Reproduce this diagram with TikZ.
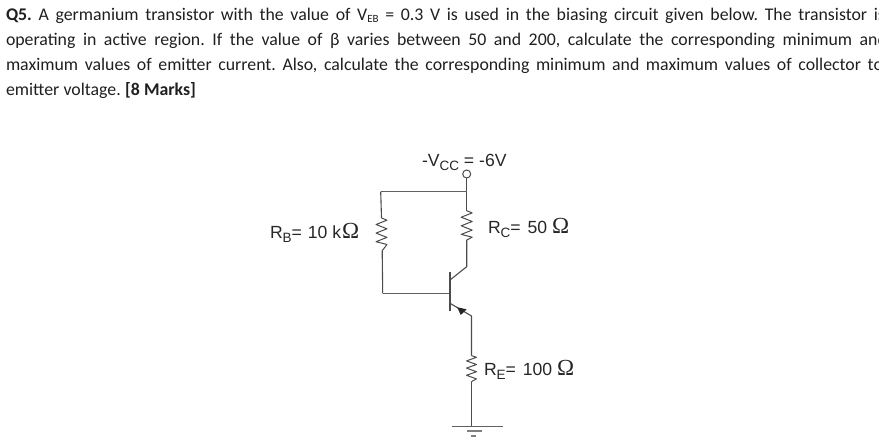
\documentclass[tikz,border=0pt]{standalone}
\usepackage{fontspec}
\setmainfont{Carlito}
\newfontfamily\labelfont{Liberation Sans}
\newfontfamily\omegafont{Liberation Serif}
\usetikzlibrary{arrows.meta}
\frenchspacing
\newcommand{\qline}[2]{\hbox to #1pt{\spaceskip=0.2em plus 1fil\relax #2}}
\newcommand{\lsub}[1]{\raisebox{-3.8pt}{\fontsize{13.5}{13.5}\selectfont #1}}
\newcommand{\ohm}{{\omegafont\fontsize{23}{23}\selectfont Ω}}
\tikzset{
  x=1pt,y=1pt,
  qtext/.style={anchor=base west,inner sep=0pt,outer sep=0pt,text=black!88,font=\fontsize{17.8}{20}\selectfont},
  clabel/.style={anchor=base west,inner sep=0pt,outer sep=0pt,text=black!85,font=\labelfont\fontsize{17.6}{18}\selectfont},
  wire/.style={draw=black!70,line width=1.1pt,line join=round},
  thick wire/.style={draw=black!62,line width=1.4pt},
}
\newcommand{\zig}[2]{% resistor between named coordinates, vertical
  \draw[wire,line width=1pt] (#1) -- ++(5.5,-2.2) -- ++(-11,-4.3) -- ++(11,-4.3) -- ++(-11,-4.3) -- ++(11,-4.3) -- ++(-11,-4.3) -- ++(11,-2.8) -- (#2);}
\begin{document}
\begin{tikzpicture}
\useasboundingbox (0,0) rectangle (879,442);
\begin{scope}
\clip (0,0) rectangle (879,442);
\node[qtext] (l1) at (6,421) {\qline{879}{\textbf{Q5.} A germanium transistor with the value of V\raisebox{-1.5pt}{\fontsize{11}{11}\selectfont EB} = 0.3 V is used in the biasing circuit given below. The transistor is}};
\node[qtext] (l2) at (6,396) {\qline{881}{operating in active region. If the value of β varies between 50 and 200, calculate the corresponding minimum and}};
\node[qtext] (l3) at (6,371) {\qline{877}{maximum values of emitter current. Also, calculate the corresponding minimum and maximum values of collector to}};
\node[qtext] (l4) at (6,346) {\qline{190}{emitter voltage. \textbf{[8 Marks]}}};
\end{scope}

\node[clabel] (vcc) at (422,275) {-V\lsub{CC} = -6V};
\node[clabel] (rc) at (488,208) {R\lsub{C}=\kern2pt\ 50 \ohm};
\node[clabel] (rb) at (270,203) {R\lsub{B}=\kern1pt\ 10 k\kern1pt\ohm};
\node[clabel] (re) at (484,66) {R\lsub{E}=\kern2pt\ 100 \ohm};

\node[circle,draw=black!70,line width=1pt,fill=white,minimum size=8pt,inner sep=0pt] (term) at (466.7,268) {};
\coordinate (jt) at (466.7,250.3);
\coordinate (tl) at (380.7,250.3);
\coordinate (rbt) at (381.5,224);
\coordinate (rbb) at (382.2,191.3);
\coordinate (bl) at (382.7,148.7);
\coordinate (bb) at (450,148.7);
\coordinate (bart) at (450,170.3);
\coordinate (barb) at (450,131.3);
\coordinate (rct) at (466.7,231.3);
\coordinate (rcb) at (466.7,202);
\coordinate (cj) at (466.7,175.3);
\coordinate (cb) at (450,162);
\coordinate (eb) at (450,138.7);
\coordinate (ej) at (471.5,126);
\coordinate (ret) at (471.5,86.3);
\coordinate (reb) at (471.5,60.3);
\coordinate (gj) at (471.5,15.3);
\coordinate (gl) at (452,15.3);
\coordinate (gr) at (502.7,15.3);
\coordinate (g2l) at (467,11);
\coordinate (g2r) at (482,11);
\coordinate (g3l) at (471,6);
\coordinate (g3r) at (476,6);

\draw[wire] (term) -- (jt);
\draw[thick wire] (jt) -- (tl);
\draw[wire] (tl) -- (rbt);
\zig{rbt}{rbb}
\draw[wire] (rbb) -- (bl);
\draw[thick wire] (bl) -- (bb);
\draw[wire] (jt) -- (rct);
\zig{rct}{rcb}
\draw[wire] (rcb) -- (cj) -- (cb);
\draw[wire,line width=1.3pt] (bart) -- (barb);
\draw[wire] (eb) -- (ej) -- (ret);
\fill[black!85] (457.3,134.7) -- (466.7,132.7) -- (460.7,127) -- cycle;
\draw[wire,line width=1pt] (ret) -- ++(5,-1.6) -- ++(-10,-3.6) -- ++(10,-3.6) -- ++(-10,-3.6) -- ++(10,-3.6) -- ++(-10,-3.6) -- ++(10,-3.6) -- ++(-5,-2.7) -- (reb);
\draw[wire] (reb) -- (gj);
\draw[thick wire] (gl) -- (gr);
\draw[draw=black!50,line width=1.1pt] (g2l) -- (g2r);
\draw[draw=black!50,line width=1.1pt] (g3l) -- (g3r);
\end{tikzpicture}
\end{document}
